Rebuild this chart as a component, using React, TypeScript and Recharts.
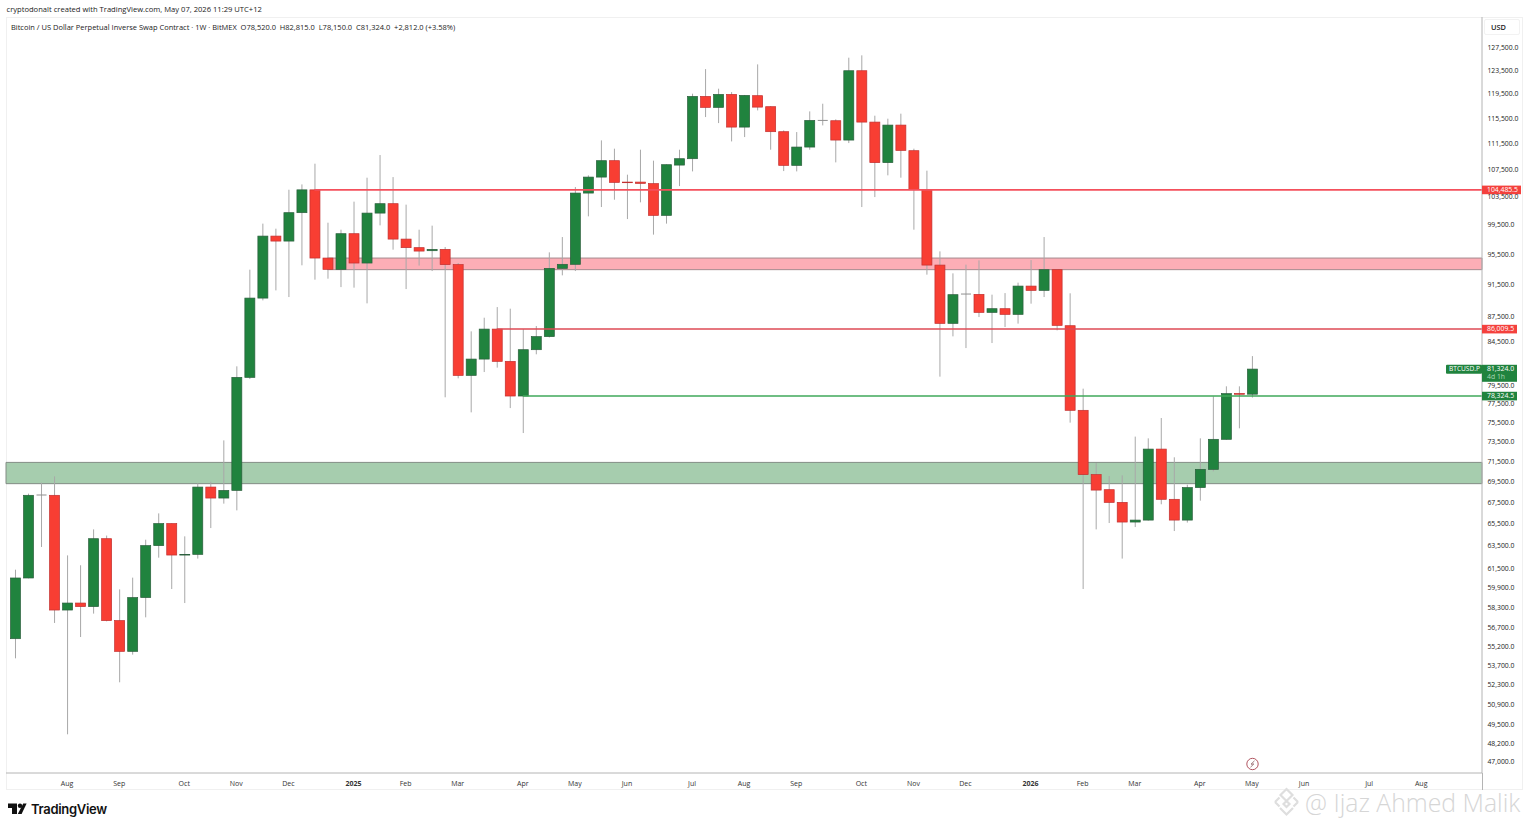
import React from 'react';
import { ComposedChart, Bar, XAxis, YAxis, ReferenceArea, ReferenceLine, ReferenceDot } from 'recharts';

// Weekly candles, oldest first
const opens = [55790,60730,68200,68170,58070,58640,58350,64160,57220,54810,59090,63540,65530,62710,62770,68960,67910,68640,80390,89810,97940,97260,101200,104480,94980,93490,98270,94320,101140,102480,97530,96370,95960,96140,94110,80610,82470,86000,82210,78320,83560,85100,93620,94150,104010,106360,108830,105620,105620,105390,100820,108160,109130,119060,117250,119390,114060,119180,117360,113330,108120,110920,115130,115080,112010,123410,114860,108530,114380,110360,104500,94050,86690,90320,90280,88030,88490,87790,91330,90780,93450,86410,76770,70170,68710,67500,65670,65850,72720,67790,65850,68910,70690,73720,78590,78520];
const highs = [61440,68330,69390,70000,62680,61820,65000,64440,59770,60760,64070,66470,65550,64370,69320,69480,73610,81640,93450,99660,98960,104500,105280,108370,99790,98820,102770,106270,109690,106360,102340,98820,99380,96450,94320,85730,87380,88690,88490,86000,86370,95740,97810,104890,106620,111960,110670,106720,110510,108830,108270,110510,119510,123690,120350,119780,119300,124510,117460,113530,113270,116590,117850,115300,125680,126090,115890,115410,116220,110670,107320,95870,92970,94110,94670,90240,90440,91770,94710,97810,93530,90410,79130,71320,70030,70100,74000,73820,75950,71890,69190,73820,78290,79390,79390,82815];
const lows = [54280,60700,63420,57030,48810,55920,57780,57160,52490,54560,57480,62480,59800,58640,62400,65120,67380,66750,80200,89520,90780,89940,94020,92150,92280,91200,91130,89150,99420,96100,90950,93980,93270,78180,80280,76550,80990,81490,77010,74370,83020,85000,92710,93270,100680,102000,103050,100300,102670,98140,99660,105030,107210,115670,114700,111800,112480,116750,110510,107260,107210,110510,114330,108570,111540,102000,103430,106620,106270,98820,92800,80470,85130,83750,87460,84340,86250,86660,89110,89940,85850,75460,59800,65000,65580,62400,65210,65800,67320,64850,65620,67660,70490,73680,74860,78150];
const closes = [60730,68170,68200,58070,58640,58350,64160,57220,54810,59090,63540,65530,62710,62760,68960,67910,68640,80390,89810,97940,97260,101200,104480,94980,93490,98270,94320,101140,102480,97530,96370,95910,96140,94110,80610,82470,86000,82210,78320,83560,85100,93620,94150,104010,106360,108830,105580,105530,105430,100820,108220,109130,119060,117250,119390,114060,119230,117290,113330,108120,110920,115130,115130,112010,123410,114860,108530,114380,110400,104500,94050,86690,90240,90320,88030,88490,87790,91330,90780,93450,86450,76770,70170,68670,67500,65670,65850,72720,67790,65850,68910,70690,73720,78580,78512,81324];

const yTicks = [127500,123500,119500,115500,111500,107500,103500,99500,95500,91500,87500,84500,79500,77500,75500,73500,71500,69500,67500,65500,63500,61500,59900,58300,56700,55200,53700,52300,50900,49500,48200,47000];
const monthTickIdx = [4,8,13,17,21,26,30,34,39,43,47,52,56,60,65,69,73,78,82,86,91,95,99,104,108];
const monthTickLabels = ['Aug','Sep','Oct','Nov','Dec','2025','Feb','Mar','Apr','May','Jun','Jul','Aug','Sep','Oct','Nov','Dec','2026','Feb','Mar','Apr','May','Jun','Jul','Aug'];

const resistanceLevel = 104485.5;
const midLevel = 86009.5;
const supportLevel = 78324.5;
const lastClose = 81324.0;
const resistanceStart = 23;
const midStart = 37;
const supportStart = 39;
const pinkZone = [93450, 94980];
const pinkZoneStart = 24;
const greenZone = [69290, 71380];

const X_MIN = -0.691;
const X_MAX = 112.67;
const Y_MIN = 46240;
const Y_MAX = 133035;

const data = opens.map((o, i) => ({
  i,
  open: o,
  high: highs[i],
  low: lows[i],
  close: closes[i],
  range: [lows[i], highs[i]],
}));

const GREEN = '#20833e';
const GREEN_EDGE = '#2b5f3d';
const RED = '#f83e33';
const RED_EDGE = '#c23030';
const FONT = '"Open Sans", sans-serif';

function Candle(props: any) {
  const { x, y, width, height, payload } = props;
  const top = Math.min(y, y + height);
  const h = Math.abs(height);
  const cx = x + width / 2;
  const { open, high, low, close } = payload;
  const span = Math.log(high) - Math.log(low);
  const py = (v: number) => top + (h * (Math.log(high) - Math.log(v))) / span;
  const yo = py(open);
  const yc = py(close);
  const bt = Math.min(yo, yc);
  const bh = Math.abs(yo - yc);
  const up = close >= open;
  const wick = '#a8a8a8';
  if (open === close) {
    return (
      <g>
        <line x1={cx} x2={cx} y1={top} y2={top + h} stroke={wick} strokeWidth={1} />
        <line x1={cx - 5} x2={cx + 5} y1={yo} y2={yo} stroke="#8f8f8f" strokeWidth={1} />
      </g>
    );
  }
  return (
    <g>
      <line x1={cx} x2={cx} y1={top} y2={top + h} stroke={wick} strokeWidth={1} />
      <rect x={cx - 5} y={bt} width={10} height={Math.max(bh, 0.6)} fill={up ? GREEN : RED} stroke={up ? GREEN_EDGE : RED_EDGE} strokeWidth={0.7} />
    </g>
  );
}

function MonthTick(props: any) {
  const { x, y, payload } = props;
  const label = monthTickLabels[monthTickIdx.indexOf(payload.value)];
  const bold = /^\d+$/.test(label);
  return (
    <text x={x} y={y + 5} textAnchor="middle" fontFamily={FONT} fontSize={7} fontWeight={bold ? 700 : 500} fill="#333">
      {label}
    </text>
  );
}

function PriceTick(props: any) {
  const { x, y, payload } = props;
  return (
    <text x={x - 0.6} y={y + 2.4} fontFamily={FONT} fontSize={6.85} fontWeight={500} fill="#222">
      {payload.value.toLocaleString('en-US', { minimumFractionDigits: 1 })}
    </text>
  );
}

function Tag(props: any) {
  const { cx, cy, tagFill, tagWidth, level } = props;
  return (
    <g>
      <rect x={cx} y={cy - 4.2} width={tagWidth} height={8.6} fill={tagFill} />
      <text x={cx + 5} y={cy + 2.4} fontFamily={FONT} fontSize={6.85} fill="#fff">
        {level.toLocaleString('en-US', { minimumFractionDigits: 1 })}
      </text>
    </g>
  );
}

function LastTag(props: any) {
  const { cx, cy, level } = props;
  return (
    <g>
      <rect x={cx - 36} y={cy - 4.3} width={36} height={9} fill={GREEN} rx={1} />
      <text x={cx - 33} y={cy + 2.4} fontFamily={FONT} fontSize={6.6} fill="#fff">BTCUSD.P</text>
      <rect x={cx} y={cy - 4.3} width={35} height={17} fill={GREEN} />
      <text x={cx + 5} y={cy + 2.4} fontFamily={FONT} fontSize={6.85} fill="#fff">
        {level.toLocaleString('en-US', { minimumFractionDigits: 1 })}
      </text>
      <text x={cx + 5} y={cy + 10.4} fontFamily={FONT} fontSize={6.85} fill="#a9d6b6">4d 1h</text>
    </g>
  );
}

const abs = (s: React.CSSProperties): React.CSSProperties => ({ position: 'absolute', whiteSpace: 'nowrap', ...s });

export default function App() {
  return (
    <div style={abs({ left: 0, top: 0, width: 1530, height: 828, background: '#fff', overflow: 'hidden' })}>
      <div style={abs({ left: 6, top: 17, width: 1517, height: 773, border: '1px solid #f0f0f0', boxSizing: 'border-box' })} />
      <div style={abs({ left: 0, top: 0 })}>
        <ComposedChart width={1530} height={828} data={data} margin={{ top: 17, left: 6, right: 6, bottom: 38 }}>
          <XAxis
            dataKey="i"
            type="number"
            domain={[X_MIN, X_MAX]}
            allowDataOverflow
            ticks={monthTickIdx}
            interval={0}
            height={17}
            tickLine={false}
            tick={<MonthTick />}
            axisLine={{ stroke: '#b4b4b4', strokeWidth: 1 }}
          />
          <YAxis
            orientation="right"
            scale="log"
            domain={[Y_MIN, Y_MAX]}
            allowDataOverflow
            ticks={yTicks}
            interval={0}
            width={42}
            tickLine={false}
            tickMargin={0}
            tick={<PriceTick />}
            axisLine={{ stroke: '#b4b4b4', strokeWidth: 1 }}
          />
          <ReferenceArea x1={X_MIN} x2={X_MAX} y1={greenZone[0]} y2={greenZone[1]} fill="#a6cdae" fillOpacity={1} stroke="#828c84" strokeWidth={1} />
          <ReferenceArea x1={pinkZoneStart} x2={X_MAX} y1={pinkZone[0]} y2={pinkZone[1]} fill="#fdaeb6" fillOpacity={1} stroke="#a58a8e" strokeWidth={1} />
          <ReferenceLine segment={[{ x: resistanceStart, y: resistanceLevel }, { x: X_MAX, y: resistanceLevel }]} stroke="#f4505c" strokeWidth={1.7} />
          <ReferenceLine segment={[{ x: midStart, y: midLevel }, { x: X_MAX, y: midLevel }]} stroke="#de4a55" strokeWidth={1.3} />
          <ReferenceLine segment={[{ x: supportStart, y: supportLevel }, { x: X_MAX, y: supportLevel }]} stroke="#3fa85a" strokeWidth={1.7} />
          <Bar dataKey="range" barSize={10} isAnimationActive={false} shape={<Candle />} />
          <ReferenceDot x={X_MAX} y={resistanceLevel} ifOverflow="visible" shape={<Tag tagFill="#f4413d" tagWidth={39} level={resistanceLevel} />} />
          <ReferenceDot x={X_MAX} y={midLevel} ifOverflow="visible" shape={<Tag tagFill="#f4413d" tagWidth={35} level={midLevel} />} />
          <ReferenceDot x={X_MAX} y={supportLevel} ifOverflow="visible" shape={<Tag tagFill={GREEN} tagWidth={35} level={supportLevel} />} />
          <ReferenceDot x={X_MAX} y={lastClose} ifOverflow="visible" shape={<LastTag level={lastClose} />} />
        </ComposedChart>
      </div>
      <div style={abs({ left: 1482, top: 773, width: 1, height: 17, background: '#b4b4b4' })} />
      <div style={abs({ left: 6.5, top: 5, fontFamily: FONT, fontSize: 7.6, fontWeight: 500, color: '#222', lineHeight: '9px' })}>
        cryptodonalt created with TradingView.com, May 07, 2026 11:29 UTC+12
      </div>
      <div style={abs({ left: 11, top: 22.5, fontFamily: FONT, fontSize: 7.47, fontWeight: 500, color: '#222', lineHeight: '9px', whiteSpace: 'pre' })}>
        {'Bitcoin / US Dollar Perpetual Inverse Swap Contract · 1W · BitMEX  O78,520.0  H82,815.0  L78,150.0  C81,324.0  +2,812.0 (+3.58%)'}
      </div>
      <div style={abs({ left: 1484, top: 19, width: 36, height: 16, border: '1px solid #f2f2f2', boxSizing: 'border-box', borderRadius: 2 })} />
      <div style={abs({ left: 1491, top: 23, fontFamily: FONT, fontSize: 7.4, fontWeight: 600, color: '#222', lineHeight: '9px' })}>USD</div>
      <svg style={{ position: 'absolute', left: 0, top: 0 }} width={1530} height={828}>
        <circle cx={1252.5} cy={764} r={5.7} fill="#fff" stroke="#a8434f" strokeWidth={0.9} />
        <path d="M1254.5 760.8 L1251 764.2 L1253.8 764 L1250.5 767.2" fill="none" stroke="#8a5a60" strokeWidth={0.8} />
        <path d="M8 803.5 H17 V814 H12 V808 H8 Z" fill="#111" />
        <circle cx={20} cy={805.8} r={2.2} fill="#111" />
        <path d="M23.2 803.5 H26.6 L21.6 814 H17.8 Z" fill="#111" />
        <g fill="none" stroke="#dedede" strokeWidth={2.2}>
          <path d="M1286.5 789 L1292.5 795 L1286.5 801 L1280.5 795 Z" />
          <path d="M1275 802 L1279.5 797.5 M1279.5 806.5 L1275 802" />
          <path d="M1298 802 L1293.5 797.5 M1293.5 806.5 L1298 802" />
          <path d="M1280 808 L1286.5 814.5 L1293 808" />
          <path d="M1283.5 804 L1286.5 801 L1289.5 804 L1286.5 807 Z" />
        </g>
      </svg>
      <div style={abs({ left: 31, top: 800, fontFamily: '"Inter", sans-serif', fontWeight: 600, fontSize: 13, letterSpacing: -0.3, color: '#111', lineHeight: '18px' })}>TradingView</div>
      <div style={abs({ left: 1305, top: 790, fontFamily: '"Open Sans", sans-serif', fontWeight: 300, fontSize: 24.8, color: '#d6d6d6', lineHeight: '24px' })}>@ Ijaz Ahmed Malik</div>
    </div>
  );
}
